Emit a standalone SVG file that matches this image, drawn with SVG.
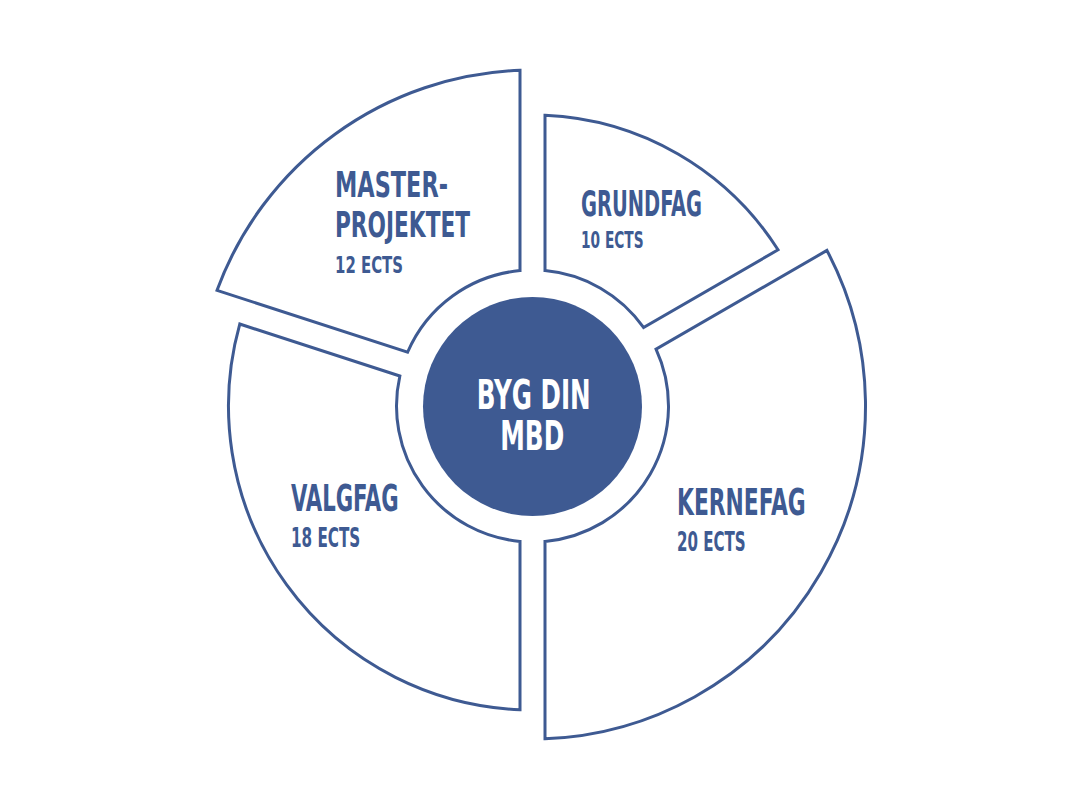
<svg xmlns="http://www.w3.org/2000/svg" width="1080" height="810" viewBox="0 0 1080 810">
<style>
.seg{fill:#ffffff;stroke:#3E5A92;stroke-width:3;stroke-linejoin:miter}
.lbl{font-family:"Liberation Sans Narrow","DejaVu Sans Condensed","Liberation Sans",sans-serif;font-weight:bold;fill:#3E5A92}
.ctr{font-family:"Liberation Sans Narrow","DejaVu Sans Condensed","Liberation Sans",sans-serif;font-weight:bold;fill:#ffffff;text-anchor:middle}
</style>
<rect x="0" y="0" width="1080" height="810" fill="#ffffff"/>
<g id="connectors"></g>
<g id="grundfag">
<path class="seg" d="M545,270.58 L545,115.27 A291,291 0 0 1 778.03,249.81 L643.53,327.46 A136,136 0 0 0 545,270.58 Z"/>
<text class="lbl" x="581" y="216" font-size="35" textLength="121" lengthAdjust="spacingAndGlyphs">GRUNDFAG</text>
<text class="lbl" x="581" y="248.3" font-size="23" textLength="62.6" lengthAdjust="spacingAndGlyphs">10 ECTS</text>
</g>
<g id="masterprojektet">
<path class="seg" d="M520,270.58 L520,70.23 A336,336 0 0 0 217.03,290.35 L407.57,352.26 A136,136 0 0 1 520,270.58 Z"/>
<text class="lbl" x="335" y="196.7" font-size="35" textLength="113" lengthAdjust="spacingAndGlyphs">MASTER-</text>
<text class="lbl" x="335" y="236.7" font-size="35" textLength="135" lengthAdjust="spacingAndGlyphs">PROJEKTET</text>
<text class="lbl" x="335" y="273.3" font-size="23.5" textLength="68" lengthAdjust="spacingAndGlyphs">12 ECTS</text>
</g>
<g id="valgfag">
<path class="seg" d="M399.85,376.04 L239.76,324.03 A304,304 0 0 0 520,709.74 L520,541.42 A136,136 0 0 1 399.85,376.04 Z"/>
<text class="lbl" x="291" y="511" font-size="37.5" textLength="107.6" lengthAdjust="spacingAndGlyphs">VALGFAG</text>
<text class="lbl" x="291" y="547.3" font-size="26" textLength="69.3" lengthAdjust="spacingAndGlyphs">18 ECTS</text>
</g>
<g id="kernefag">
<path class="seg" d="M545,541.42 L545,738.77 A333,333 0 0 0 826.94,250.44 L656.03,349.11 A136,136 0 0 1 545,541.42 Z"/>
<text class="lbl" x="677" y="515" font-size="37" textLength="128.7" lengthAdjust="spacingAndGlyphs">KERNEFAG</text>
<text class="lbl" x="677" y="550.7" font-size="26" textLength="68.7" lengthAdjust="spacingAndGlyphs">20 ECTS</text>
</g>
<g id="center">
<circle cx="532.5" cy="406.5" r="109.5" fill="#3E5A92"/>
<text class="ctr" x="533.7" y="409" font-size="40" textLength="114" lengthAdjust="spacingAndGlyphs">BYG DIN</text>
<text class="ctr" x="532.2" y="450" font-size="40" textLength="64" lengthAdjust="spacingAndGlyphs">MBD</text>
</g>
</svg>
